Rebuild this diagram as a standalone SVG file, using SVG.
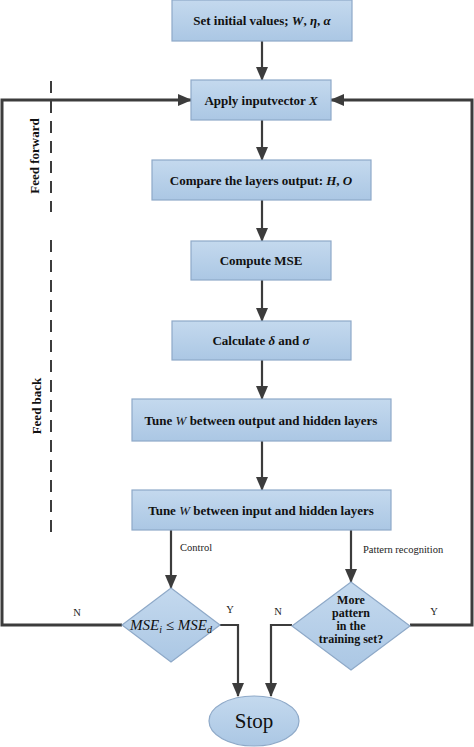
<svg xmlns="http://www.w3.org/2000/svg" width="474" height="747" viewBox="0 0 474 747">
<defs>
<linearGradient id="g" x1="0" y1="0" x2="0" y2="1">
<stop offset="0" stop-color="#c4d9ee"/>
<stop offset="1" stop-color="#abc7e4"/>
</linearGradient>
<marker id="ahb" markerWidth="14" markerHeight="12" refX="13" refY="6" orient="auto" markerUnits="userSpaceOnUse">
<path d="M0,0 L14,6 L0,12 Z" fill="#3c3c3c"/>
</marker>
</defs>
<style>
.box{fill:url(#g);stroke:#8ea9c8;stroke-width:1.2}
.t{font-family:"Liberation Serif","Times New Roman",serif;font-weight:bold;font-size:13px;fill:#111;text-anchor:middle}
.t2{font-family:"Liberation Serif","Times New Roman",serif;font-weight:bold;font-size:12px;fill:#111;text-anchor:middle}
.s{font-family:"Liberation Serif","Times New Roman",serif;font-size:10.5px;fill:#222}
.c{fill:none;stroke:#3c3c3c;stroke-width:2.2}
.loop{fill:none;stroke:#3c3c3c;stroke-width:3}
.dash{fill:none;stroke:#3c3c3c;stroke-width:2;stroke-dasharray:12 8}
.side{font-family:"Liberation Serif","Times New Roman",serif;font-weight:bold;font-size:13px;fill:#111;text-anchor:middle}
</style>
<rect width="474" height="747" fill="#fff"/>
<g id="connectors">
<line class="c" x1="262" y1="41" x2="262" y2="80" marker-end="url(#ahb)"/>
<line class="c" x1="262" y1="120" x2="262" y2="160" marker-end="url(#ahb)"/>
<line class="c" x1="262" y1="200" x2="262" y2="241" marker-end="url(#ahb)"/>
<line class="c" x1="262" y1="280" x2="262" y2="321" marker-end="url(#ahb)"/>
<line class="c" x1="262" y1="360" x2="262" y2="399" marker-end="url(#ahb)"/>
<line class="c" x1="262" y1="441" x2="262" y2="490" marker-end="url(#ahb)"/>
<line class="c" x1="171" y1="530" x2="171" y2="588" marker-end="url(#ahb)"/>
<line class="c" x1="351" y1="530" x2="351" y2="582" marker-end="url(#ahb)"/>
<polyline class="loop" points="122,625 2,625 2,100 191,100" marker-end="url(#ahb)"/>
<polyline class="loop" points="410,625 472,625 472,100 331,100" marker-end="url(#ahb)"/>
<polyline class="c" points="220,625 238,625 238,696" marker-end="url(#ahb)"/>
<polyline class="c" points="292,625 271,625 271,696" marker-end="url(#ahb)"/>
<text class="s" x="180" y="551">Control</text>
<text class="s" x="363" y="553">Pattern recognition</text>
<text class="s" x="77" y="616" text-anchor="middle">N</text>
<text class="s" x="230" y="613" text-anchor="middle">Y</text>
<text class="s" x="278" y="615" text-anchor="middle">N</text>
<text class="s" x="434" y="615" text-anchor="middle">Y</text>
</g>
<g id="phases">
<line class="dash" x1="51" y1="81" x2="51" y2="212"/>
<line class="dash" x1="51" y1="240" x2="51" y2="532"/>
<text class="side" transform="translate(39,156) rotate(-90)">Feed forward</text>
<text class="side" transform="translate(41,406) rotate(-90)">Feed back</text>
</g>
<g id="n1">
<rect class="box" x="172" y="0" width="180" height="41"/>
<text class="t" x="262" y="25">Set initial values; <tspan font-style="italic">W</tspan>, <tspan font-style="italic">η</tspan>, <tspan font-style="italic">α</tspan></text>
</g>
<g id="n2">
<rect class="box" x="191" y="80" width="140" height="40"/>
<text class="t" x="261" y="105">Apply inputvector <tspan font-style="italic">X</tspan></text>
</g>
<g id="n3">
<rect class="box" x="152" y="160" width="219" height="40"/>
<text class="t" x="261" y="185">Compare the layers output: <tspan font-style="italic">H</tspan>, <tspan font-style="italic">O</tspan></text>
</g>
<g id="n4">
<rect class="box" x="191" y="241" width="140" height="39"/>
<text class="t" x="261" y="265">Compute MSE</text>
</g>
<g id="n5">
<rect class="box" x="172" y="321" width="179" height="39"/>
<text class="t" x="261" y="345">Calculate <tspan font-style="italic">δ</tspan> and <tspan font-style="italic">σ</tspan></text>
</g>
<g id="n6">
<rect class="box" x="132" y="399" width="259" height="42"/>
<text class="t" x="261" y="425">Tune <tspan font-style="italic" font-weight="normal">W</tspan> between output and hidden layers</text>
</g>
<g id="n7">
<rect class="box" x="132" y="490" width="259" height="40"/>
<text class="t" x="261" y="515">Tune <tspan font-style="italic" font-weight="normal">W</tspan> between input and hidden layers</text>
</g>
<g id="d1">
<polygon class="box" points="171,588 220,625 171,662 122,625"/>
<text x="171" y="630" text-anchor="middle" font-family="Liberation Serif,serif" font-style="italic" font-size="15" fill="#111">MSE<tspan font-size="10" dy="3">i</tspan><tspan dy="-3"> ≤ MSE</tspan><tspan font-size="10" dy="3">d</tspan></text>
</g>
<g id="d2">
<polygon class="box" points="351,582 410,626 351,670 292,626"/>
<text class="t2" x="351" y="604">More</text>
<text class="t2" x="351" y="617">pattern</text>
<text class="t2" x="351" y="630">in the</text>
<text class="t2" x="351" y="643">training set?</text>
</g>
<g id="stop">
<ellipse class="box" cx="254" cy="721" rx="45" ry="25"/>
<text x="254" y="728" text-anchor="middle" font-family="Liberation Serif,serif" font-size="21" fill="#111">Stop</text>
</g>
</svg>
